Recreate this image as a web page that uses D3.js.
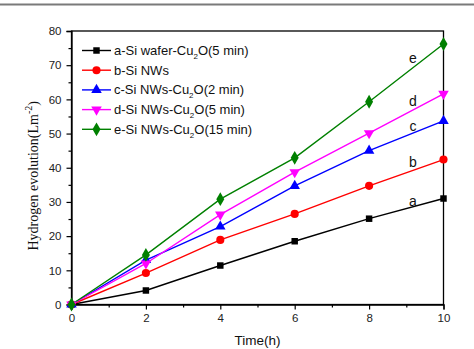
<!DOCTYPE html>
<html><head><meta charset="utf-8">
<script src="https://cdn.jsdelivr.net/npm/d3@7"></script>
<style>body{margin:0;background:#fff}svg{display:block}</style>
</head><body>
<script>
const times = [0, 2, 4, 6, 8, 10];
const seriesA = [0, 4.1, 11.4, 18.5, 25.1, 31.0];
const seriesB = [0, 9.2, 18.9, 26.5, 34.7, 42.4];
const seriesC = [0, 13.0, 22.8, 34.7, 45.0, 53.7];
const seriesD = [0, 12.0, 26.3, 38.7, 50.1, 61.6];
const seriesE = [0, 14.5, 30.8, 42.9, 59.3, 76.2];
const seriesNames = ["a-Si wafer-Cu|2|O(5 min)", "b-Si NWs", "c-Si NWs-Cu|2|O(2 min)", "d-Si NWs-Cu|2|O(5 min)", "e-Si NWs-Cu|2|O(15 min)"];
const seriesLetters = ["a", "b", "c", "d", "e"];
const colors = ["#000000", "#ff0000", "#0000ff", "#ff00ff", "#008000"];
const xTicks = [0, 2, 4, 6, 8, 10];
const yTicks = [0, 10, 20, 30, 40, 50, 60, 70, 80];

const W = 474, H = 349;
const svg = d3.select("body").append("svg").attr("width", W).attr("height", H);
const x = d3.scaleLinear().domain([0, 10]).range([71.5, 443.5]);
const y = d3.scaleLinear().domain([0, 80]).range([304.5, 31]);

// page header line
svg.append("line").attr("x1", 0).attr("x2", W).attr("y1", 4.5).attr("y2", 4.5)
  .attr("stroke", "#7a7a7a").attr("stroke-width", 2);

// frame
svg.append("rect").attr("x", x(0)).attr("y", y(80)).attr("width", x(10) - x(0)).attr("height", y(0) - y(80))
  .attr("fill", "none").attr("stroke", "#000").attr("stroke-width", 1.3);

const font = "Liberation Sans, Arial, sans-serif";
// x axis
svg.append("g").attr("transform", `translate(0,${y(0)})`)
  .call(d3.axisBottom(x).tickValues(xTicks).tickSize(5).tickPadding(4).tickFormat(d3.format("d")));
svg.append("g").attr("transform", `translate(0,${y(0)})`)
  .call(d3.axisBottom(x).tickValues([1, 3, 5, 7, 9]).tickSize(3).tickFormat(""))
  .call(g => g.select(".domain").remove());
// y axis
svg.append("g").attr("transform", `translate(${x(0)},0)`)
  .call(d3.axisLeft(y).tickValues(yTicks).tickSize(5).tickPadding(5).tickFormat(d3.format("d")));
svg.append("g").attr("transform", `translate(${x(0)},0)`)
  .call(d3.axisLeft(y).tickValues([5, 15, 25, 35, 45, 55, 65, 75]).tickSize(3).tickFormat(""))
  .call(g => g.select(".domain").remove());
svg.selectAll(".tick line").attr("stroke", "#000").attr("stroke-width", 1.2);
svg.selectAll(".domain").attr("stroke", "#000").attr("stroke-width", 1.3);
svg.selectAll(".tick text").attr("font-family", font).attr("font-size", 11.5).attr("fill", "#222");

// axis titles
svg.append("text").attr("x", (x(0) + x(10)) / 2).attr("y", 345).attr("text-anchor", "middle")
  .attr("font-family", font).attr("font-size", 13.5).attr("fill", "#111").text("Time(h)");
const yl = svg.append("text").attr("transform", `translate(38,${(y(0) + y(80)) / 2 + 8}) rotate(-90)`)
  .attr("text-anchor", "middle").attr("font-family", "Liberation Serif, Times New Roman, serif")
  .attr("font-size", 14).attr("fill", "#111");
yl.append("tspan").text("Hydrogen evolution(Lm");
yl.append("tspan").attr("dy", -6).attr("font-size", 10).text("-2");
yl.append("tspan").attr("dy", 6).text(")");

const allSeries = [seriesA, seriesB, seriesC, seriesD, seriesE];
const symbols = [d3.symbolSquare, d3.symbolCircle, d3.symbolTriangle, "down", d3.symbolDiamond];
const sizes = [42, 52, 48, 48, 55];
function marker(g, i, cx, cy) {
  if (symbols[i] === "down") {
    g.append("path").attr("d", d3.symbol(d3.symbolTriangle, sizes[i])())
      .attr("transform", `translate(${cx},${cy}) rotate(180)`).attr("fill", colors[i]);
  } else {
    g.append("path").attr("d", d3.symbol(symbols[i], sizes[i])())
      .attr("transform", `translate(${cx},${cy})`).attr("fill", colors[i]);
  }
}
const line = d3.line().x((d, j) => x(times[j])).y(d => y(d));
allSeries.forEach((s, i) => {
  const g = svg.append("g");
  g.append("path").datum(s).attr("d", line).attr("fill", "none").attr("stroke", colors[i]).attr("stroke-width", 1.4);
  s.forEach((v, j) => { if (j > 0) marker(g, i, x(times[j]), y(v)); });
});
// origin markers
allSeries.forEach((s, i) => marker(svg, i, x(0), y(0)));

// end letters
const letterY = [201, 162, 126, 101, 58];
seriesLetters.forEach((l, i) => {
  svg.append("text").attr("x", 413).attr("y", letterY[i] + 5).attr("text-anchor", "middle")
    .attr("font-family", font).attr("font-size", 14).attr("fill", "#111").text(l);
});

// legend
seriesNames.forEach((name, i) => {
  const ly = 50.5 + i * 19.7;
  const g = svg.append("g");
  g.append("line").attr("x1", 82).attr("x2", 111).attr("y1", ly).attr("y2", ly).attr("stroke", colors[i]).attr("stroke-width", 1.4);
  marker(g, i, 96.5, ly);
  const t = g.append("text").attr("x", 114).attr("y", ly + 4.5).attr("font-family", font).attr("font-size", 13).attr("fill", "#111");
  const parts = name.split("|");
  t.append("tspan").text(parts[0]);
  if (parts.length > 1) {
    t.append("tspan").attr("dy", 4).attr("font-size", 8).text(parts[1]);
    t.append("tspan").attr("dy", -4).text(parts[2]);
  }
});
</script>
</body></html>
